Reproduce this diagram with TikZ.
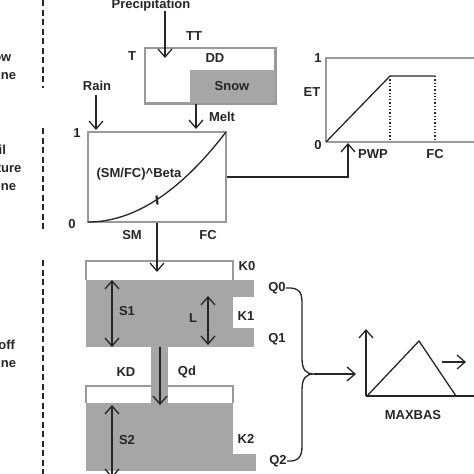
\documentclass[tikz,border=0pt]{standalone}
\usepackage{fontspec}
\setmainfont{Liberation Sans}
\usetikzlibrary{arrows.meta}
\tikzset{
    Label/.style = {font=\fontsize{13}{18}\selectfont\bfseries, text=black!85, inner sep=0pt},
    Box/.style = {draw=black!40, line width=1.5pt},
    Flow/.style = {draw=black!85, line width=1.3pt, -{Straight Barb[length=8pt,width=14pt]}},
    BiFlow/.style = {Flow, {Straight Barb[length=8pt,width=14pt]}-{Straight Barb[length=8pt,width=14pt]}},
    Store/.style = {fill=black!35},
    Sep/.style = {line width=1.3pt, dash pattern=on 6pt off 3.5pt, draw=black!85}
}

\begin{document}
\begin{tikzpicture}[x=1pt,y=-1pt]
    \useasboundingbox (0,0) rectangle (474,474);
    \foreach \A/\B in {0/88,128/232,260/476}
        {\draw[Sep] (43,\A) -- (43,\B);}
    \node[Label,align=center] (snowroutine) at (-6,66) {Snow\\routine};
    \node[Label,align=center] (soilroutine) at (-6,168) {Soil\\moisture\\routine};
    \node[Label,align=center] (runoffroutine) at (-6,354) {Runoff\\routine};
    % snow
    \node[Box,minimum width=130pt,minimum height=55pt,inner sep=0pt] (snowbox) at (210,75.5) {};
    \fill[Store] (190,70) rectangle (275,103);
    \draw[Box] (snowbox.north west) rectangle (snowbox.south east);
    \node[Label] (snow) at (232,86) {Snow};
    \node[Label] (precip) at (151,5) {Precipitation};
    \node[Label] (tt) at (194,36) {TT};
    \node[Label] (dd) at (215,58) {DD};
    \node[Label] (t) at (132,56) {T};
    \node[Label] (rain) at (97,86) {Rain};
    \node[Label] (melt) at (222,117) {Melt};
    \coordinate (precipend) at (165,58);
    \coordinate (raintop) at (96,95);
    \coordinate (meltend) at (196,129);
    \draw[Flow] (precip.south -| precipend) -- (precipend);
    \draw[Flow] (raintop) -- (96,130);
    \draw[Flow] (snowbox.south -| meltend) -- (meltend);
    % soil moisture
    \node[Box,minimum width=138pt,minimum height=90pt,inner sep=0pt] (soil) at (157,177) {};
    \draw[black!85,line width=1.3pt] plot[domain=0:1,samples=40] ({88+138*\x},{222-90*\x*\x});
    \draw[black!85,line width=2.2pt] (156.5,195.5) -- (157.5,204.5);
    \node[Label] (beta) at (139,174) {(SM/FC)\textasciicircum Beta};
    \node[Label] (sone) at (77,133) {1};
    \node[Label] (szero) at (72,224) {0};
    \node[Label] (sm) at (132,235) {SM};
    \node[Label] (sfc) at (208,235) {FC};
    % evapotranspiration
    \draw[Box] (326,142) -- (326,58) -- (478,58);
    \draw[Box] (326,142) -- (478,142);
    \draw[black!85,line width=1.3pt] (326,142) -- (390,76) -- (435,76);
    \foreach \X in {390,435}
        {\draw[black!85,line width=1.3pt,dotted] (\X,76) -- (\X,142);}
    \node[Label] (eone) at (318,58) {1};
    \node[Label] (ezero) at (318,145) {0};
    \node[Label] (et) at (312,92) {ET};
    \node[Label] (pwp) at (373,154) {PWP};
    \node[Label] (efc) at (435,154) {FC};
    \coordinate (pwpmark) at (348,143);
    \draw[Flow] (soil.east) -| (pwpmark);
    % runoff
    \fill[Store] (86,280) rectangle (233,347);
    \fill[Store] (233,280) rectangle (254,297);
    \fill[Store] (233,328) rectangle (254,347);
    \draw[Box] (86,280) -- (86,261) -- (233,261) -- (233,280);
    \draw[Box] (86,403) -- (86,386) -- (233,386) -- (233,403);
    \fill[Store] (86,403) rectangle (233,471);
    \fill[Store] (233,454) rectangle (256,471);
    \fill[Store] (151,345) rectangle (168,404);
    \coordinate (tanktop) at (157,272);
    \draw[Flow] (soil.south) -- (tanktop);
    \draw[BiFlow] (112,280) -- (112,347);
    \draw[BiFlow] (208,296) -- (208,345);
    \draw[Flow] (160,347) -- (160,405);
    \draw[BiFlow] (112,405) -- (112,478);
    \node[Label] (sone) at (127,311) {S1};
    \node[Label] (l) at (193,318) {L};
    \node[Label] (stwo) at (127,440) {S2};
    \node[Label] (kd) at (126,372) {KD};
    \node[Label] (qd) at (187,372) {Qd};
    \node[Label] (kzero) at (247,266) {K0};
    \node[Label] (kone) at (246,316) {K1};
    \node[Label] (ktwo) at (246,439) {K2};
    \node[Label] (qzero) at (277,288) {Q0};
    \node[Label] (qone) at (277,339) {Q1};
    \node[Label] (qtwo) at (278,461) {Q2};
    \coordinate (brace) at (314,374);
    \draw[black!85,line width=1.3pt] (qzero.east) .. controls (302,287) and (302,295) .. (302,305)
        -- (302,358) .. controls (302,370) and (306,374) .. (brace)
        .. controls (306,374) and (302,378) .. (302,390) -- (302,446)
        .. controls (302,456) and (299,462) .. (qtwo.east);
    \coordinate (uh) at (356,374);
    \draw[Flow] (brace) -- (uh);
    % maxbas
    \coordinate (uo) at (366,396);
    \draw[Flow] (uo) -- (366,329);
    \draw[black!85,line width=1.3pt] (uo) -- (478,396);
    \draw[black!85,line width=1.3pt] (367,396) -- (419,341) -- (456,396);
    \draw[Flow] (442,362) -- (466,362);
    \node[Label] (maxbas) at (413,415) {MAXBAS};
\end{tikzpicture}
\end{document}
